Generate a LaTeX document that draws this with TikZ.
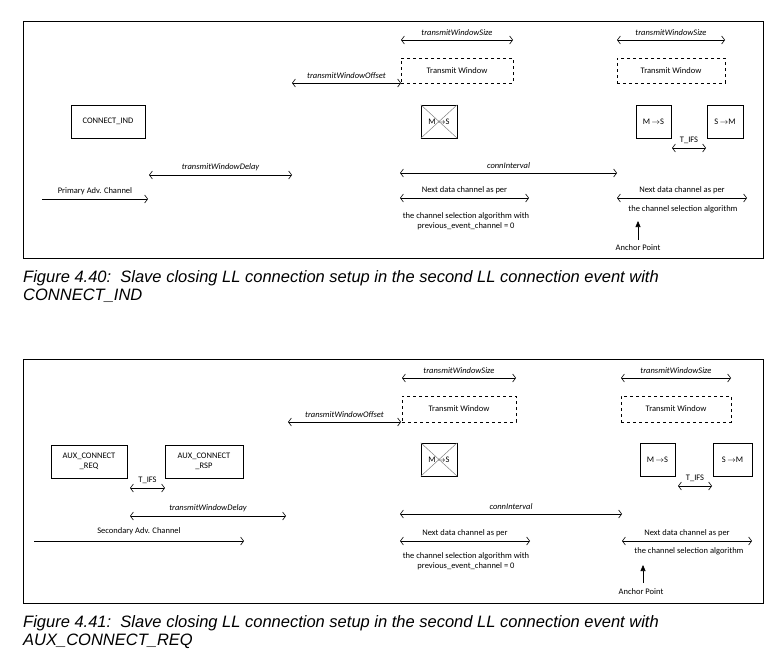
\documentclass[tikz,border=0pt]{standalone}
\usepackage{fontspec}
\setmainfont{Carlito}
\newfontfamily\capf{Liberation Sans}
\usetikzlibrary{arrows.meta}
\begin{document}
\begin{tikzpicture}[x=1pt,y=-1pt,
 lbl/.style={font=\fontsize{8.5}{10.5}\selectfont,inner sep=0pt},
 ilbl/.style={lbl,font=\fontsize{8.5}{10.5}\selectfont\itshape},
 dim/.style={line width=0.6pt,{Straight Barb[length=3pt,width=8pt]}-{Straight Barb[length=3pt,width=8pt]}},
 one/.style={line width=0.6pt,-{Straight Barb[length=3pt,width=8pt]}},
 box/.style={draw,line width=0.6pt,inner sep=0pt,font=\fontsize{8.5}{10.5}\selectfont,align=center},
 tw/.style={box,dashed},
 figcap/.style={anchor=west,inner sep=0pt,font=\capf\fontsize{16.5}{18}\selectfont\itshape}]
\useasboundingbox (0,0) rectangle (783,661);
% ===== Figure 4.40 =====
\draw[line width=0.6pt] (23,21) rectangle (763,258);
\node[box,minimum width=74pt,minimum height=33pt] (ci) at (108,121.5) {CONNECT\_IND};
\coordinate (d1a) at (149,175); \coordinate (d1b) at (292,175);
\draw[dim] (d1a) -- node[ilbl,above=4pt] {transmitWindowDelay} (d1b);
\coordinate (p1a) at (42,199); \coordinate (p1b) at (148,199);
\draw[one] (p1a) -- node[lbl,above=4pt] {Primary Adv. Channel} (p1b);
\coordinate (o1a) at (292,83); \coordinate (o1b) at (401,83);
\draw[dim] (o1a) -- node[ilbl,above=4pt] {transmitWindowOffset} (o1b);
\coordinate (s1a) at (401,40); \coordinate (s1b) at (513,40);
\draw[dim] (s1a) -- node[ilbl,above=4pt] {transmitWindowSize} (s1b);
\node[tw,minimum width=112pt,minimum height=25pt] (tw1) at (457,70.5) {Transmit Window};
\node[box,minimum width=36pt,minimum height=33pt] (x1) at (439,121.5) {M$\,\to$S};
\draw[gray,line width=0.5pt] (x1.north west) -- (x1.south east) (x1.north east) -- (x1.south west);
\coordinate (c1a) at (400,173); \coordinate (c1b) at (617,173);
\draw[dim] (c1a) -- node[ilbl,above=4pt] {connInterval} (c1b);
\coordinate (n1a) at (400,198); \coordinate (n1b) at (529,198);
\draw[dim] (n1a) -- node[lbl,above=4pt] {Next data channel as per} (n1b);
\node[lbl,align=center] (t1) at (466,221) {the channel selection algorithm with\\previous\_event\_channel = 0};
\coordinate (s2a) at (617,40); \coordinate (s2b) at (725,40);
\draw[dim] (s2a) -- node[ilbl,above=4pt] {transmitWindowSize} (s2b);
\node[tw,minimum width=108pt,minimum height=25pt] (tw2) at (671,70.5) {Transmit Window};
\node[box,minimum width=35pt,minimum height=33pt] (ms1) at (653.5,121.5) {M$\,\to$S};
\node[box,minimum width=36pt,minimum height=33pt] (sm1) at (725,121.5) {S$\,\to$M};
\coordinate (i1a) at (672,148); \coordinate (i1b) at (706,148);
\draw[dim] (i1a) -- node[lbl,above=4pt] {T\_IFS} (i1b);
\coordinate (n2a) at (617,198); \coordinate (n2b) at (747,198);
\draw[dim] (n2a) -- node[lbl,above=4pt] {Next data channel as per} (n2b);
\node[lbl] (t2) at (683,209) {the channel selection algorithm};
\node[lbl] (a1) at (638,248) {Anchor Point};
\coordinate (a1t) at (638,221);
\coordinate (a1s) at (638,240);
\draw[line width=0.6pt,-{Triangle[length=6pt,width=5pt]}] (a1s) -- (a1t);
\node[figcap] (cap1) at (23,278) {Figure 4.40:\ \ Slave closing LL connection setup in the second LL connection event with};
\node[figcap] (cap1b) at (23,296) {CONNECT\_IND};
% ===== Figure 4.41 =====
\draw[line width=0.6pt] (23,359) rectangle (763,603);
\node[box,minimum width=76pt,minimum height=33pt] (req) at (89,461.5) {AUX\_CONNECT\\\_REQ};
\node[box,minimum width=78pt,minimum height=33pt] (rsp) at (204,461.5) {AUX\_CONNECT\\\_RSP};
\coordinate (i2a) at (130,488); \coordinate (i2b) at (165,488);
\draw[dim] (i2a) -- node[lbl,above=4pt] {T\_IFS} (i2b);
\coordinate (d2a) at (130,516); \coordinate (d2b) at (286,516);
\draw[dim] (d2a) -- node[ilbl,above=4pt] {transmitWindowDelay} (d2b);
\coordinate (p2a) at (34,541); \coordinate (p2b) at (244,541);
\draw[one] (p2a) -- node[lbl,above=6pt] {Secondary Adv. Channel} (p2b);
\coordinate (o2a) at (288,422); \coordinate (o2b) at (401,422);
\draw[dim] (o2a) -- node[ilbl,above=4pt] {transmitWindowOffset} (o2b);
\coordinate (s3a) at (402,378); \coordinate (s3b) at (516,378);
\draw[dim] (s3a) -- node[ilbl,above=4pt] {transmitWindowSize} (s3b);
\node[tw,minimum width=114pt,minimum height=26pt] (tw3) at (459,409) {Transmit Window};
\node[box,minimum width=36pt,minimum height=33pt] (x2) at (439,459.5) {M$\,\to$S};
\draw[gray,line width=0.5pt] (x2.north west) -- (x2.south east) (x2.north east) -- (x2.south west);
\coordinate (c2a) at (400,514); \coordinate (c2b) at (622,514);
\draw[dim] (c2a) -- node[ilbl,above=4pt] {connInterval} (c2b);
\coordinate (n3a) at (400,541); \coordinate (n3b) at (530,541);
\draw[dim] (n3a) -- node[lbl,above=4pt] {Next data channel as per} (n3b);
\node[lbl,align=center] (t3) at (466,561) {the channel selection algorithm with\\previous\_event\_channel = 0};
\coordinate (s4a) at (621,378); \coordinate (s4b) at (731,378);
\draw[dim] (s4a) -- node[ilbl,above=4pt] {transmitWindowSize} (s4b);
\node[tw,minimum width=110pt,minimum height=26pt] (tw4) at (676,409) {Transmit Window};
\node[box,minimum width=35pt,minimum height=33pt] (ms2) at (657.5,459.5) {M$\,\to$S};
\node[box,minimum width=39pt,minimum height=33pt] (sm2) at (732.5,459.5) {S$\,\to$M};
\coordinate (i3a) at (678,486); \coordinate (i3b) at (712,486);
\draw[dim] (i3a) -- node[lbl,above=4pt] {T\_IFS} (i3b);
\coordinate (n4a) at (622,541); \coordinate (n4b) at (752,541);
\draw[dim] (n4a) -- node[lbl,above=4pt] {Next data channel as per} (n4b);
\node[lbl] (t4) at (689,551) {the channel selection algorithm};
\node[lbl] (a2) at (641,592) {Anchor Point};
\coordinate (a2t) at (643,565);
\coordinate (a2s) at (643,583);
\draw[line width=0.6pt,-{Triangle[length=6pt,width=5pt]}] (a2s) -- (a2t);
\node[figcap] (cap2) at (23,623) {Figure 4.41:\ \ Slave closing LL connection setup in the second LL connection event with};
\node[figcap] (cap2b) at (23,641) {AUX\_CONNECT\_REQ};
\end{tikzpicture}
\end{document}
